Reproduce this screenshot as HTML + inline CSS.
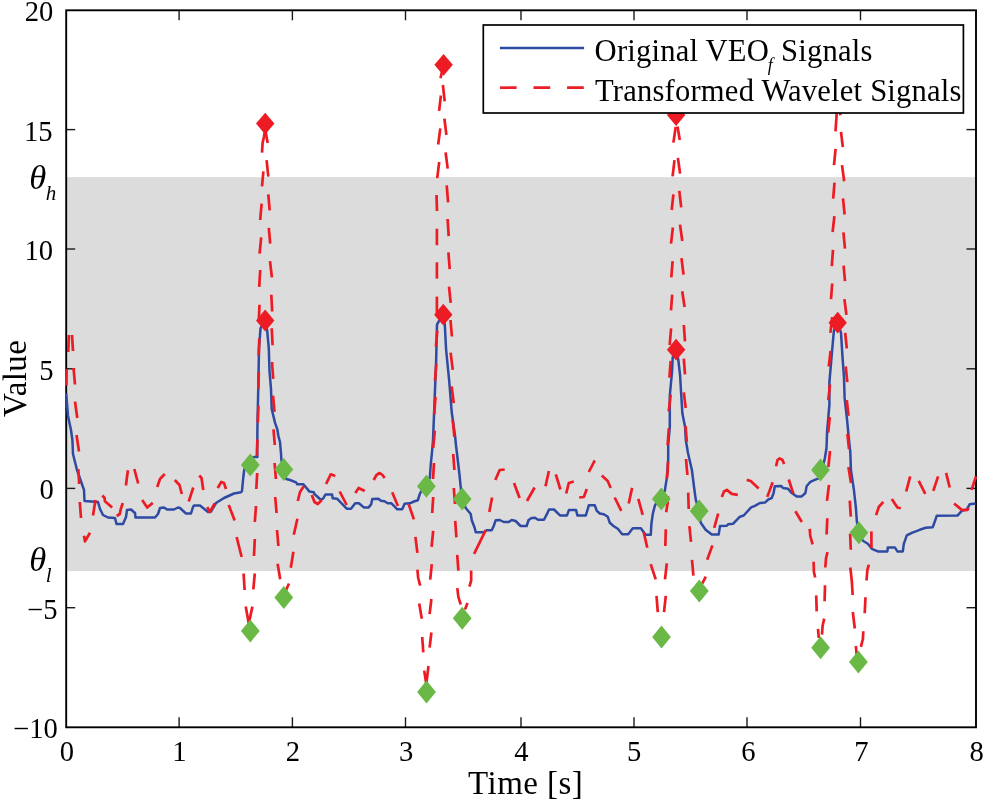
<!DOCTYPE html>
<html lang="en"><head><meta charset="utf-8"><title>VEO signals</title>
<style>html,body{margin:0;padding:0;background:#fff}svg{display:block}text{font-family:"Liberation Serif","Times New Roman",serif;fill:#000}.tk{font-size:28.6px}.lb{font-size:33px;letter-spacing:0.45px}.lg{font-size:30.6px;letter-spacing:0.2px}.it{font-style:italic}</style></head><body>
<svg width="984" height="802" viewBox="0 0 984 802">
<rect width="984" height="802" fill="#fff"/>
<rect x="66.2" y="177.1" width="909.8" height="393.9" fill="#dcdcdc"/>
<g stroke="#1a1a1a" stroke-width="1.4" fill="none">
<line x1="179.1" y1="727.3" x2="179.1" y2="717.3"/><line x1="179.1" y1="10.3" x2="179.1" y2="20.3"/>
<line x1="292.4" y1="727.3" x2="292.4" y2="717.3"/><line x1="292.4" y1="10.3" x2="292.4" y2="20.3"/>
<line x1="405.5" y1="727.3" x2="405.5" y2="717.3"/><line x1="405.5" y1="10.3" x2="405.5" y2="20.3"/>
<line x1="521.0" y1="727.3" x2="521.0" y2="717.3"/><line x1="521.0" y1="10.3" x2="521.0" y2="20.3"/>
<line x1="634.0" y1="727.3" x2="634.0" y2="717.3"/><line x1="634.0" y1="10.3" x2="634.0" y2="20.3"/>
<line x1="747.0" y1="727.3" x2="747.0" y2="717.3"/><line x1="747.0" y1="10.3" x2="747.0" y2="20.3"/>
<line x1="860.5" y1="727.3" x2="860.5" y2="717.3"/><line x1="860.5" y1="10.3" x2="860.5" y2="20.3"/>
<line x1="66.2" y1="129.6" x2="75.2" y2="129.6"/><line x1="976.0" y1="129.6" x2="966.5" y2="129.6"/>
<line x1="66.2" y1="249.0" x2="75.2" y2="249.0"/><line x1="976.0" y1="249.0" x2="966.5" y2="249.0"/>
<line x1="66.2" y1="368.8" x2="75.2" y2="368.8"/><line x1="976.0" y1="368.8" x2="966.5" y2="368.8"/>
<line x1="66.2" y1="488.4" x2="75.2" y2="488.4"/><line x1="976.0" y1="488.4" x2="966.5" y2="488.4"/>
<line x1="66.2" y1="607.7" x2="75.2" y2="607.7"/><line x1="976.0" y1="607.7" x2="966.5" y2="607.7"/>
</g>
<rect x="66.2" y="10.3" width="909.8" height="717.0" fill="none" stroke="#000" stroke-width="1.9"/>
<polyline points="66.2,393.5 68.0,415.9 71.0,430.0 72.4,440.0 73.0,454.0 77.0,470.0 84.0,490.0 84.5,501.0 98.0,502.0 100.0,509.0 103.0,515.0 108.0,517.5 115.0,518.0 116.5,524.0 123.0,524.0 126.0,517.0 127.0,510.0 131.0,509.5 135.0,513.0 135.5,517.5 155.0,517.5 158.0,514.0 160.0,508.0 164.0,507.5 167.0,509.5 174.0,509.5 178.0,507.5 180.0,508.0 186.0,513.5 191.0,513.5 193.0,507.0 194.0,505.5 200.0,505.5 208.0,512.0 211.0,511.5 216.0,503.0 224.0,498.0 234.0,493.5 241.0,492.3 242.0,491.0 243.2,478.0 244.2,470.0 247.0,463.0 251.0,458.5 254.0,457.0 257.4,457.0 257.2,450.0 257.5,422.6 258.4,382.2 259.0,348.5 260.5,328.3 265.0,319.5 267.2,330.6 268.8,348.5 269.5,371.0 271.0,389.0 271.7,409.0 275.0,422.6 277.3,429.3 278.4,436.0 280.0,442.0 280.9,452.0 281.4,460.0 283.8,469.5 286.2,479.0 290.0,480.0 296.1,482.4 297.3,484.3 303.4,484.3 309.5,491.6 313.8,492.2 314.4,494.0 320.5,499.5 322.9,498.9 325.4,494.6 332.1,494.6 332.7,498.3 337.0,498.7 346.7,508.7 351.0,508.7 355.2,503.2 358.9,503.2 363.8,507.4 368.7,507.4 371.1,504.4 372.3,498.9 378.4,498.7 380.9,500.7 384.5,501.3 387.6,503.2 391.2,503.2 397.3,509.3 402.2,509.3 404.6,503.8 409.9,503.3 413.9,501.5 417.8,500.3 419.8,494.0 421.8,490.0 426.4,484.0 429.8,478.0 430.8,464.0 432.2,450.0 433.0,440.0 434.5,402.6 436.1,362.1 437.0,324.7 443.0,313.5 444.8,324.7 446.1,349.6 449.2,380.8 451.7,412.0 455.2,436.9 455.6,442.0 456.8,452.0 459.4,474.0 460.8,488.0 462.2,499.0 465.7,508.0 470.7,514.0 471.7,520.0 474.7,528.0 475.7,532.2 483.7,532.2 486.7,530.2 491.7,530.2 493.7,526.0 495.7,520.2 499.7,520.0 503.7,522.0 508.7,522.0 511.7,520.0 515.6,521.0 520.6,526.0 526.6,526.0 528.6,520.0 531.6,518.0 535.0,517.8 538.0,519.8 544.0,519.8 547.0,513.9 549.0,509.5 554.0,509.5 560.0,515.4 567.0,515.4 569.0,509.9 576.0,509.9 577.4,515.4 585.8,515.4 587.8,508.9 588.8,505.3 594.8,505.3 596.8,510.9 599.8,513.5 603.8,514.3 607.8,516.8 609.8,522.8 613.8,526.2 617.8,528.8 622.2,534.2 628.2,534.2 632.8,528.2 640.8,528.2 643.8,532.2 645.4,534.8 650.8,534.8 651.4,523.8 652.8,513.9 654.8,505.9 658.0,500.0 661.0,496.0 664.8,490.9 666.8,477.9 668.2,460.0 668.2,445.0 669.8,427.0 669.8,395.7 672.1,371.0 672.7,357.5 676.0,348.5 678.3,359.8 680.1,375.5 681.0,391.2 682.4,413.6 685.1,427.0 685.8,440.0 688.0,453.0 691.9,470.0 693.9,486.0 695.8,499.9 699.2,511.0 700.6,522.5 705.6,529.8 711.8,534.6 718.7,534.6 720.0,526.1 726.8,525.8 728.1,524.2 733.0,523.8 739.9,516.7 743.7,515.5 751.1,507.4 754.9,505.9 759.9,503.0 764.9,502.6 768.6,499.3 771.7,498.0 773.6,493.0 774.8,486.2 781.1,485.9 783.0,488.0 788.0,488.7 791.1,492.4 796.7,496.4 801.7,496.4 805.4,493.0 806.6,486.2 810.4,481.8 814.8,479.9 818.5,478.4 821.0,474.0 824.9,458.0 826.5,448.0 827.1,431.6 829.4,404.6 829.4,382.2 832.1,350.8 833.9,330.6 837.5,321.5 841.0,332.8 842.4,355.3 844.0,377.7 844.6,397.9 846.9,418.1 848.4,433.8 849.5,445.0 850.3,452.0 850.9,470.0 853.9,489.9 855.9,507.9 856.9,521.8 858.9,532.8 862.9,540.8 867.8,543.8 871.8,548.8 877.8,551.4 887.4,551.4 887.8,547.4 894.8,547.4 897.4,551.4 902.8,551.4 903.8,543.8 906.8,535.4 911.8,532.8 919.7,529.8 925.7,527.8 932.7,527.2 934.7,521.8 936.7,515.8 957.7,515.4 961.7,510.9 966.6,509.9 969.6,504.3 975.6,503.5" fill="none" stroke="#2e4aa2" stroke-width="2.5" stroke-linejoin="round"/>
<g fill="none" stroke="#ed1c24" stroke-width="2.7" stroke-linejoin="round">
<polyline points="66.4,385.5 66.6,369.0"/>
<polyline points="68.2,352.0 68.9,335.0"/>
<polyline points="72.0,335.0 73.0,351.0"/>
<polyline points="73.5,368.0 75.0,384.5"/>
<polyline points="75.0,401.6 77.3,418.0"/>
<polyline points="76.5,435.0 79.0,451.5"/>
<polyline points="78.3,469.0 79.2,484.0"/>
<polyline points="79.8,502.0 81.0,518.0"/>
<polyline points="84.0,535.8 85.0,541.4 90.0,532.8"/>
<polyline points="93.0,515.5 95.5,500.0"/>
<polyline points="102.3,495.5 104.6,498.0 104.9,501.2 112.2,507.5"/>
<polyline points="116.7,516.0 119.8,514.0 120.8,509.0 122.8,503.0"/>
<polyline points="125.9,485.5 127.9,470.3"/>
<polyline points="134.3,469.0 138.2,483.5"/>
<polyline points="142.2,499.9 147.2,507.5 152.8,502.9"/>
<polyline points="157.2,487.0 160.0,479.0 164.8,474.0"/>
<polyline points="174.8,480.0 179.5,485.0 181.8,494.0"/>
<polyline points="188.7,501.5 193.3,487.5"/>
<polyline points="199.3,475.5 201.5,478.0 203.3,490.0"/>
<polyline points="207.3,507.0 209.7,512.0 214.7,503.5"/>
<polyline points="217.7,488.0 221.3,482.0 224.0,483.0 226.0,489.0"/>
<polyline points="228.7,505.0 234.7,520.5"/>
<polyline points="236.6,537.0 241.6,557.0"/>
<polyline points="243.6,573.5 244.6,590.0"/>
<polyline points="245.7,606.6 248.8,623.4 252.4,606.6"/>
<polyline points="253.3,589.3 254.8,573.5"/>
<polyline points="254.0,556.0 254.8,539.0"/>
<polyline points="254.8,522.0 256.0,506.0"/>
<polyline points="256.3,489.0 257.2,473.0"/>
<polyline points="256.8,456.0 257.4,439.4"/>
<polyline points="257.8,422.6 258.4,405.8"/>
<polyline points="258.3,388.9 258.8,372.1"/>
<polyline points="258.7,355.3 259.3,338.4"/>
<polyline points="258.8,321.6 259.5,304.8"/>
<polyline points="259.2,286.8 260.2,270.0"/>
<polyline points="259.6,253.7 261.2,237.3"/>
<polyline points="260.2,220.0 261.6,203.7"/>
<polyline points="262.0,186.4 263.4,171.4"/>
<polyline points="262.0,152.7 262.6,143.0 263.9,137.0 265.2,130.0"/>
<polyline points="265.3,130.0 267.7,143.0"/>
<polyline points="266.6,160.1 268.3,176.7"/>
<polyline points="268.3,194.3 269.7,210.4"/>
<polyline points="268.8,227.9 270.2,243.6"/>
<polyline points="270.0,261.1 271.9,277.3"/>
<polyline points="271.3,294.7 272.2,311.5"/>
<polyline points="271.7,328.3 272.6,345.2"/>
<polyline points="272.0,362.0 273.2,378.8"/>
<polyline points="273.0,395.7 274.5,411.8"/>
<polyline points="273.5,429.3 274.8,445.0"/>
<polyline points="274.6,463.0 275.9,479.0"/>
<polyline points="275.2,497.0 276.6,513.0"/>
<polyline points="277.0,530.0 278.4,546.0"/>
<polyline points="277.6,563.8 280.2,579.3"/>
<polyline points="284.0,597.0 286.5,589.0 289.0,583.5"/>
<polyline points="290.8,567.8 293.4,551.8"/>
<polyline points="293.8,534.8 297.4,518.8"/>
<polyline points="297.8,501.0 300.0,492.0 303.8,486.3"/>
<polyline points="311.8,495.0 314.5,502.0 317.8,504.0 321.8,500.0"/>
<polyline points="326.1,484.0 330.7,474.3 335.3,476.0"/>
<polyline points="339.7,491.5 346.7,505.0"/>
<polyline points="355.3,493.0 358.7,488.0 364.7,491.0"/>
<polyline points="373.7,480.0 376.5,475.0 379.6,473.0 382.5,475.0 384.6,478.0"/>
<polyline points="392.2,492.3 397.9,505.9"/>
<polyline points="408.7,504.3 413.9,519.4"/>
<polyline points="415.4,536.8 417.4,552.8"/>
<polyline points="417.4,569.7 418.2,578.0 420.2,585.7"/>
<polyline points="419.2,603.5 421.8,618.8"/>
<polyline points="422.2,637.0 423.3,652.3"/>
<polyline points="424.2,670.6 426.3,684.0 428.5,666.0"/>
<polyline points="429.6,647.7 431.4,632.5"/>
<polyline points="429.6,614.2 431.4,599.0"/>
<polyline points="430.2,579.7 431.8,564.2"/>
<polyline points="431.6,546.8 433.2,530.8"/>
<polyline points="432.2,513.0 433.2,497.0"/>
<polyline points="433.0,479.0 434.0,463.0"/>
<polyline points="433.2,447.8 434.8,430.7"/>
<polyline points="434.2,414.5 435.5,397.0"/>
<polyline points="435.0,380.8 436.3,363.7"/>
<polyline points="435.9,346.5 437.3,330.9"/>
<polyline points="436.9,313.0 436.9,296.6"/>
<polyline points="436.9,278.6 436.9,262.3"/>
<polyline points="436.9,245.2 436.9,228.7"/>
<polyline points="437.0,211.0 436.5,195.0"/>
<polyline points="437.2,178.1 439.2,162.0"/>
<polyline points="438.2,144.5 440.3,128.3"/>
<polyline points="439.1,110.8 440.9,95.5"/>
<polyline points="440.5,78.2 441.8,72.6 443.6,68.0"/>
<polyline points="442.9,85.0 444.7,101.4"/>
<polyline points="444.4,118.6 446.4,135.0"/>
<polyline points="445.6,152.3 447.7,168.7"/>
<polyline points="446.7,185.3 448.1,202.4"/>
<polyline points="447.6,219.0 448.7,236.1"/>
<polyline points="448.4,252.4 449.7,269.2"/>
<polyline points="449.0,286.7 450.7,302.9"/>
<polyline points="450.5,320.0 451.9,336.5"/>
<polyline points="450.6,352.7 452.8,369.9"/>
<polyline points="451.6,386.4 453.7,403.2"/>
<polyline points="452.7,419.8 454.4,436.9"/>
<polyline points="453.2,454.0 454.4,470.0"/>
<polyline points="453.8,488.0 455.0,504.0"/>
<polyline points="455.2,520.8 456.4,537.4"/>
<polyline points="457.2,554.8 458.4,570.7"/>
<polyline points="457.3,588.2 458.4,597.2 460.8,604.5"/>
<polyline points="465.0,609.6 467.5,603.0"/>
<polyline points="469.4,586.7 471.2,580.5 471.1,570.5"/>
<polyline points="474.1,553.8 485.7,530.2"/>
<polyline points="489.3,511.9 492.1,497.5"/>
<polyline points="495.3,480.0 499.7,470.0 504.7,469.5"/>
<polyline points="514.0,483.0 519.6,498.0"/>
<polyline points="527.0,501.0 534.6,487.5"/>
<polyline points="545.5,486.3 548.9,471.0"/>
<polyline points="555.8,474.3 560.4,489.5"/>
<polyline points="566.2,493.5 568.8,483.0 573.8,481.5"/>
<polyline points="579.2,497.5 583.8,497.0 586.8,489.0"/>
<polyline points="588.8,472.0 594.8,460.4"/>
<polyline points="601.8,475.5 607.7,481.0 610.7,488.0"/>
<polyline points="614.7,497.5 621.3,510.9"/>
<polyline points="628.7,503.5 632.1,487.9"/>
<polyline points="638.3,498.9 642.7,514.9"/>
<polyline points="643.7,532.2 647.3,547.8"/>
<polyline points="650.7,564.2 655.7,579.3"/>
<polyline points="656.5,595.9 657.8,612.1"/>
<polyline points="665.8,595.9 664.0,612.1"/>
<polyline points="666.8,563.4 665.0,579.3"/>
<polyline points="665.8,529.3 665.3,546.0"/>
<polyline points="667.9,496.0 667.6,503.0 666.2,512.2"/>
<polyline points="668.0,461.8 667.8,470.0 666.9,478.7"/>
<polyline points="667.6,445.0 668.9,428.2"/>
<polyline points="668.7,411.4 670.7,394.6"/>
<polyline points="669.4,377.7 670.7,360.9"/>
<polyline points="669.7,345.0 671.1,328.3"/>
<polyline points="671.0,310.4 672.2,294.7"/>
<polyline points="671.3,277.3 672.6,261.1"/>
<polyline points="671.0,243.6 672.9,227.5"/>
<polyline points="671.7,210.0 673.4,194.3"/>
<polyline points="672.6,176.3 674.5,160.1"/>
<polyline points="673.4,142.6 675.7,126.9"/>
<polyline points="677.5,126.5 679.8,140.0"/>
<polyline points="677.9,157.9 680.1,173.6"/>
<polyline points="679.3,190.9 681.2,207.3"/>
<polyline points="680.0,224.6 682.3,241.0"/>
<polyline points="681.5,258.2 683.5,274.6"/>
<polyline points="682.2,291.3 684.6,307.0"/>
<polyline points="683.8,325.0 685.0,341.4"/>
<polyline points="683.8,358.6 685.0,374.4"/>
<polyline points="683.8,392.3 685.7,408.0"/>
<polyline points="685.6,426.0 686.8,441.7"/>
<polyline points="686.0,459.0 687.4,475.0"/>
<polyline points="688.2,492.6 688.7,509.0"/>
<polyline points="689.4,526.2 691.0,541.8"/>
<polyline points="692.0,559.8 693.4,575.7"/>
<polyline points="702.2,583.7 705.8,576.7"/>
<polyline points="707.2,559.8 712.4,545.4"/>
<polyline points="714.2,527.8 718.2,513.5"/>
<polyline points="721.8,496.9 724.0,491.5 726.8,489.9 731.8,493.9 737.8,494.9"/>
<polyline points="746.7,479.9 750.7,481.0 758.7,488.5"/>
<polyline points="767.3,496.9 772.7,482.3"/>
<polyline points="776.1,466.3 777.5,460.0 779.7,458.4 782.5,460.0 784.1,464.0"/>
<polyline points="788.7,479.5 793.3,493.5"/>
<polyline points="795.4,511.2 801.8,522.0"/>
<polyline points="809.7,528.9 810.3,536.0 812.6,544.4"/>
<polyline points="813.6,561.8 813.9,572.0 815.2,577.5"/>
<polyline points="816.2,595.4 816.7,611.4"/>
<polyline points="818.0,628.8 818.8,638.0"/>
<polyline points="822.0,634.6 822.6,625.7 824.2,618.6"/>
<polyline points="824.6,601.3 825.0,585.3"/>
<polyline points="825.3,567.5 826.0,558.3 827.5,552.1"/>
<polyline points="826.6,534.5 827.3,518.3"/>
<polyline points="827.0,500.9 829.0,484.9"/>
<polyline points="828.4,467.0 830.0,451.0"/>
<polyline points="828.2,432.7 829.8,417.0"/>
<polyline points="828.3,400.2 830.0,384.5"/>
<polyline points="828.8,366.5 830.6,350.8"/>
<polyline points="830.4,332.8 832.2,317.1"/>
<polyline points="831.0,299.2 832.2,283.5"/>
<polyline points="831.8,266.1 833.0,249.9"/>
<polyline points="832.6,232.0 834.4,216.2"/>
<polyline points="833.2,198.7 834.5,182.6"/>
<polyline points="834.0,165.1 835.6,148.9"/>
<polyline points="835.5,131.4 836.8,112.0"/>
<polyline points="840.0,112.0 840.5,115.3"/>
<polyline points="841.0,131.9 842.8,147.1"/>
<polyline points="842.0,165.1 844.2,181.2"/>
<polyline points="843.0,198.3 844.6,214.5"/>
<polyline points="843.4,232.4 845.0,248.6"/>
<polyline points="843.6,265.6 845.0,281.2"/>
<polyline points="844.4,299.2 846.4,314.9"/>
<polyline points="845.2,332.8 846.8,348.5"/>
<polyline points="845.7,366.5 847.3,382.2"/>
<polyline points="846.8,400.2 848.5,415.9"/>
<polyline points="847.4,433.8 849.0,449.0"/>
<polyline points="848.4,467.0 851.0,483.0"/>
<polyline points="849.8,500.7 850.8,516.6"/>
<polyline points="850.1,533.8 850.8,549.7"/>
<polyline points="850.3,567.5 851.8,580.8 852.7,595.0"/>
<polyline points="852.8,612.0 854.8,628.5"/>
<polyline points="855.8,646.0 856.8,655.3"/>
<polyline points="860.9,646.8 862.9,639.0 863.3,631.2"/>
<polyline points="864.7,613.3 865.5,597.2"/>
<polyline points="866.5,580.5 867.4,569.6 868.9,564.7"/>
<polyline points="871.4,548.0 871.4,531.4"/>
<polyline points="876.1,515.1 878.8,507.0 883.3,501.8"/>
<polyline points="891.8,498.9 897.4,507.5 900.8,508.3"/>
<polyline points="906.2,491.5 910.2,476.3"/>
<polyline points="918.7,480.9 925.3,493.9"/>
<polyline points="933.3,490.9 938.1,476.3"/>
<polyline points="946.1,472.9 949.7,487.5"/>
<polyline points="954.1,503.5 961.7,509.9 967.6,509.9 968.6,507.9"/>
<polyline points="971.6,489.9 976.0,476.3"/>
</g>
<polygon points="250.3,453.5 259.7,465.0 250.3,476.5 240.9,465.0" fill="#6ab845"/>
<polygon points="283.8,458.0 293.2,469.5 283.8,481.0 274.4,469.5" fill="#6ab845"/>
<polygon points="250.3,619.5 259.7,631.0 250.3,642.5 240.9,631.0" fill="#6ab845"/>
<polygon points="283.8,586.0 293.2,597.5 283.8,609.0 274.4,597.5" fill="#6ab845"/>
<polygon points="426.4,474.8 435.8,486.3 426.4,497.8 417.0,486.3" fill="#6ab845"/>
<polygon points="462.2,487.4 471.6,498.9 462.2,510.4 452.8,498.9" fill="#6ab845"/>
<polygon points="426.5,680.5 435.9,692.0 426.5,703.5 417.1,692.0" fill="#6ab845"/>
<polygon points="462.2,606.7 471.6,618.2 462.2,629.7 452.8,618.2" fill="#6ab845"/>
<polygon points="661.3,487.4 670.7,498.9 661.3,510.4 651.9,498.9" fill="#6ab845"/>
<polygon points="699.2,499.4 708.6,510.9 699.2,522.4 689.8,510.9" fill="#6ab845"/>
<polygon points="661.5,625.6 670.9,637.1 661.5,648.6 652.1,637.1" fill="#6ab845"/>
<polygon points="699.3,579.5 708.7,591.0 699.3,602.5 689.9,591.0" fill="#6ab845"/>
<polygon points="820.5,458.5 829.9,470.0 820.5,481.5 811.1,470.0" fill="#6ab845"/>
<polygon points="858.9,521.3 868.3,532.8 858.9,544.3 849.5,532.8" fill="#6ab845"/>
<polygon points="820.6,636.2 830.0,647.7 820.6,659.2 811.2,647.7" fill="#6ab845"/>
<polygon points="858.4,650.6 867.8,662.1 858.4,673.6 849.0,662.1" fill="#6ab845"/>
<polygon points="265.2,112.7 274.4,123.6 265.2,134.5 256.0,123.6" fill="#ed1c24"/>
<polygon points="265.2,309.6 274.4,320.5 265.2,331.4 256.0,320.5" fill="#ed1c24"/>
<polygon points="443.6,53.9 452.8,64.8 443.6,75.7 434.4,64.8" fill="#ed1c24"/>
<polygon points="443.3,303.8 452.5,314.7 443.3,325.6 434.1,314.7" fill="#ed1c24"/>
<polygon points="676.1,104.2 685.3,115.1 676.1,126.0 666.9,115.1" fill="#ed1c24"/>
<polygon points="676.1,338.8 685.3,349.7 676.1,360.6 666.9,349.7" fill="#ed1c24"/>
<polygon points="837.7,311.8 846.9,322.7 837.7,333.6 828.5,322.7" fill="#ed1c24"/>
<rect x="483.3" y="25" width="480.1" height="88" fill="#fff" stroke="#000" stroke-width="1.7"/>
<line x1="499.9" y1="48" x2="584.1" y2="48" stroke="#2e4aa2" stroke-width="2.5"/>
<line x1="499.9" y1="87.7" x2="584.1" y2="87.7" stroke="#ed1c24" stroke-width="2.7" stroke-dasharray="16.7 16.9"/>
<text class="lg" x="594.6" y="60.7">Original VEO</text>
<text class="it" font-size="17.8" x="767.8" y="70.6">f</text>
<text class="lg" x="781" y="60.7">Signals</text>
<text class="lg" x="595" y="100.7">Transformed Wavelet Signals</text>
<text class="tk" text-anchor="end" x="53.4" y="21.0">20</text>
<text class="tk" text-anchor="end" x="52.6" y="140.7">15</text>
<text class="tk" text-anchor="end" x="53.1" y="260.2">10</text>
<text class="tk" text-anchor="end" x="53.5" y="379.7">5</text>
<text class="tk" text-anchor="end" x="53.8" y="499.1">0</text>
<text class="tk" text-anchor="end" x="57.5" y="618.8">−5</text>
<text class="tk" text-anchor="end" x="57.8" y="738.2">−10</text>
<text class="tk" text-anchor="middle" x="66.8" y="761.3">0</text>
<text class="tk" text-anchor="middle" x="179.5" y="761.3">1</text>
<text class="tk" text-anchor="middle" x="293.0" y="761.3">2</text>
<text class="tk" text-anchor="middle" x="406.2" y="761.3">3</text>
<text class="tk" text-anchor="middle" x="521.4" y="761.3">4</text>
<text class="tk" text-anchor="middle" x="634.2" y="761.3">5</text>
<text class="tk" text-anchor="middle" x="748.4" y="761.3">6</text>
<text class="tk" text-anchor="middle" x="861.4" y="761.3">7</text>
<text class="tk" text-anchor="middle" x="976.6" y="761.3">8</text>
<text class="it" font-size="34.6" x="29.2" y="189.4">θ<tspan font-size="21" dy="11" dx="-0.5">h</tspan></text>
<text class="it" font-size="34.6" x="29.2" y="570.8">θ<tspan font-size="21" dy="11" dx="-0.5">l</tspan></text>
<text class="lb" text-anchor="middle" x="525.7" y="793.9">Time [s]</text>
<text class="lb" text-anchor="middle" transform="translate(25.6,378.3) rotate(-90)">Value</text>
</svg></body></html>
